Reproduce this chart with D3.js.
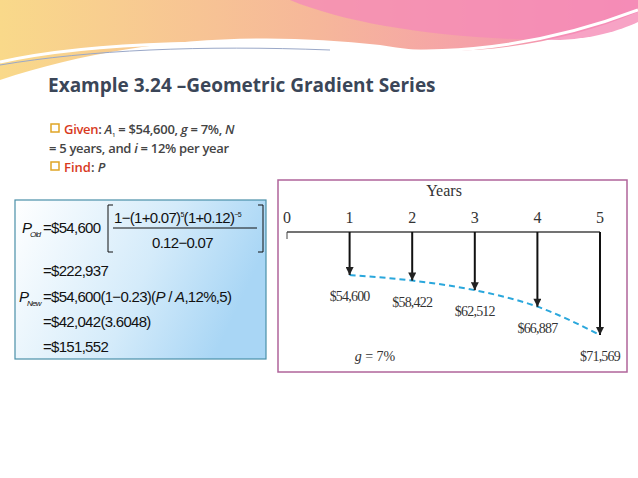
<!DOCTYPE html>
<html><head><meta charset="utf-8">
<script src="https://cdn.jsdelivr.net/npm/d3@7"></script>
<style>body{margin:0;background:#fff}svg{display:block}</style>
</head><body>
<svg id="c" width="638" height="478"></svg>
<script>
const years = [0,1,2,3,4,5];
const payYears = [1,2,3,4,5];
const payments = [54600,58422,62512,66887,71569];
const payLabels = ["$54,600","$58,422","$62,512","$66,887","$71,569"];
const svg = d3.select("#c");
const defs = svg.append("defs");
const g1 = defs.append("linearGradient").attr("id","top1").attr("x1",0).attr("x2",1);
g1.append("stop").attr("offset",0).attr("stop-color","#f9d98a");
g1.append("stop").attr("offset",0.5).attr("stop-color","#f6b79a");
g1.append("stop").attr("offset",1).attr("stop-color","#f48ab8");
const bg = defs.append("linearGradient").attr("id","box").attr("x1",0).attr("x2",1).attr("y1",0).attr("y2",0.3);
bg.append("stop").attr("offset",0).attr("stop-color","#ffffff");
bg.append("stop").attr("offset",0.6).attr("stop-color","#d4ebfa");
bg.append("stop").attr("offset",1).attr("stop-color","#a9d6f5");
defs.append("marker").attr("id","ah").attr("viewBox","0 0 10 10").attr("refX",10).attr("refY",5)
 .attr("markerWidth",16).attr("markerHeight",8).attr("markerUnits","userSpaceOnUse").attr("orient","auto")
 .append("path").attr("d","M0,0L10,5L0,10z").attr("fill","#222");

// decorative header
svg.append("path").attr("d","M0,0H638V12C560,45 460,60 380,45C250,30 120,40 0,80Z").attr("fill","url(#top1)");
svg.append("path").attr("d","M290,0C350,25 450,40 560,40C600,38 625,28 638,22V0Z").attr("fill","#f58cb6").attr("opacity",0.8);
svg.append("path").attr("d","M0,62C100,40 250,40 330,48C420,55 520,55 638,10").attr("fill","none").attr("stroke","#fff").attr("stroke-width",3);
svg.append("path").attr("d","M0,65C90,50 200,45 330,50").attr("fill","none").attr("stroke","#9aa8c8").attr("stroke-width",1);

svg.append("text").attr("x",48).attr("y",92).attr("font-family","Open Sans").attr("font-weight","bold")
 .attr("font-size",19).attr("fill","#3b4658").text("Example 3.24 –Geometric Gradient Series");
const bf = "Open Sans";
function bullet(y){svg.append("rect").attr("x",51).attr("y",y-10).attr("width",8).attr("height",8).attr("fill","#fff").attr("stroke","#e0a526").attr("stroke-width",1.5);}
bullet(134); bullet(172);
const bs = 13;
let t = svg.append("text").attr("x",64).attr("y",134).attr("font-family",bf).attr("font-weight",600).attr("font-size",bs).attr("fill","#444").attr("letter-spacing",-0.3);
t.append("tspan").attr("fill","#d83a1e").text("Given");
t.append("tspan").text(": ");
t.append("tspan").attr("font-style","italic").text("A");
t.append("tspan").attr("font-size",6).attr("dy",3).text("1");
t.append("tspan").attr("dy",-3).text(" = $54,600, ");
t.append("tspan").attr("font-style","italic").text("g");
t.append("tspan").text(" = 7%, ");
t.append("tspan").attr("font-style","italic").text("N");
t = svg.append("text").attr("x",49).attr("y",153).attr("font-family",bf).attr("font-weight",600).attr("font-size",bs).attr("fill","#444").attr("letter-spacing",-0.3);
t.append("tspan").text("= 5 years, and ");
t.append("tspan").attr("font-style","italic").text("i");
t.append("tspan").text(" = 12% per year");
t = svg.append("text").attr("x",64).attr("y",172).attr("font-family",bf).attr("font-weight",600).attr("font-size",bs).attr("fill","#444");
t.append("tspan").attr("fill","#d83a1e").text("Find");
t.append("tspan").text(": ");
t.append("tspan").attr("font-style","italic").text("P");

// formula box
svg.append("rect").attr("x",15).attr("y",200).attr("width",251).attr("height",159).attr("fill","url(#box)").attr("stroke","#4a8fa8").attr("stroke-width",1.2);
const ff = "Liberation Sans Narrow, Liberation Sans";
const fs = 15;
function ln(x,y,parts){const tt=svg.append("text").attr("x",x).attr("y",y).attr("font-family",ff).attr("font-size",fs).attr("fill","#111").attr("letter-spacing",-0.7);
 parts.forEach(p=>{const s=tt.append("tspan").text(p[0]); if(p[1])s.attr("font-style","italic"); if(p[2])s.attr("font-size",p[2]); if(p[3])s.attr("dy",p[3]);});}
ln(22,233,[["P",1]]); ln(30,237,[["Old",1,8]]);
ln(43,233,[["=$54,600"]]);
svg.append("path").attr("d","M113,205H108V252H113M258,205H263V252H258").attr("fill","none").attr("stroke","#111");
ln(114,223,[["1−(1+0.07)"],["5",0,7,-6],["(1+0.12)",0,fs,6],["−5",0,7,-6]]);
svg.append("line").attr("x1",113).attr("x2",257).attr("y1",228).attr("y2",228).attr("stroke","#111");
ln(152,248,[["0.12−0.07"]]);
ln(43,276,[["=$222,937"]]);
ln(19,302,[["P",1]]); ln(27,306,[["New",1,8]]);
ln(43,302,[["=$54,600(1−0.23)("],["P",1],[" / "],["A",1],[",12%,5)"]]);
ln(43,327,[["=$42,042(3.6048)"]]);
ln(43,352,[["=$151,552"]]);

// cash flow diagram
svg.append("rect").attr("x",278).attr("y",180).attr("width",349).attr("height",192).attr("fill","#fff").attr("stroke","#b0649a").attr("stroke-width",1.5);
const x = d3.scaleLinear().domain([0,5]).range([287,600]);
const y = d3.scalePow().exponent(8).domain([54600,71569]).range([275,335]);
const axisY = 232;
const df = "Liberation Serif";
svg.append("text").attr("x",444).attr("y",196).attr("text-anchor","middle").attr("font-family",df).attr("font-size",16).attr("fill","#333").text("Years");
svg.append("line").attr("x1",x(0)).attr("x2",x(5)).attr("y1",axisY).attr("y2",axisY).attr("stroke","#444").attr("stroke-width",1.3);
svg.append("line").attr("x1",x(0)).attr("x2",x(0)).attr("y1",axisY).attr("y2",axisY+7).attr("stroke","#444");
svg.selectAll(".yr").data(years).join("text").attr("x",d=>x(d)).attr("y",223).attr("text-anchor","middle")
 .attr("font-family",df).attr("font-size",16).attr("fill","#333").text(d=>d);
svg.append("path").datum(payYears.map((d,i)=>[x(d),y(payments[i])]))
 .attr("d",d3.line().curve(d3.curveMonotoneX)).attr("fill","none").attr("stroke","#2aa7dc").attr("stroke-width",2).attr("stroke-dasharray","6,4");
svg.selectAll(".ar").data(payYears).join("line").attr("x1",d=>x(d)).attr("x2",d=>x(d)).attr("y1",axisY)
 .attr("y2",(d,i)=>y(payments[i])).attr("stroke","#111").attr("stroke-width",2).attr("marker-end","url(#ah)");
svg.selectAll(".lb").data(payYears).join("text").attr("x",d=>x(d)).attr("y",(d,i)=>y(payments[i])+26)
 .attr("text-anchor","middle").attr("font-family",df).attr("font-size",14).attr("letter-spacing",-0.8).attr("fill","#333").text((d,i)=>payLabels[i]);
t = svg.append("text").attr("x",375).attr("y",361).attr("text-anchor","middle").attr("font-family",df).attr("font-size",14).attr("fill","#333");
t.append("tspan").attr("font-style","italic").text("g"); t.append("tspan").text(" = 7%");
</script>
</body></html>
